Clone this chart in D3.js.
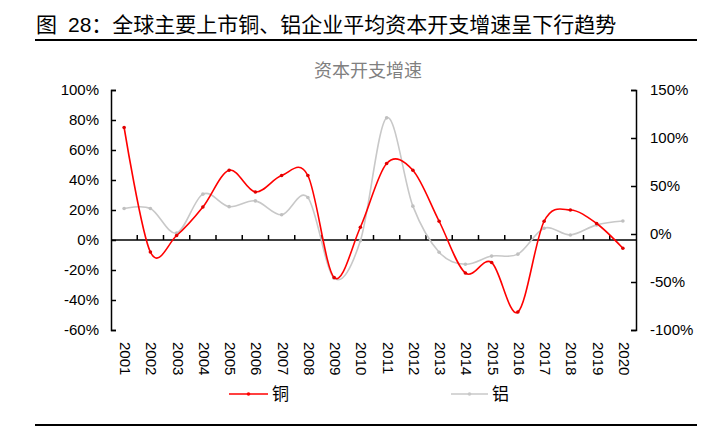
<!DOCTYPE html>
<html>
<head>
<meta charset="utf-8">
<script src="https://cdn.jsdelivr.net/npm/d3@7"></script>
<style>
  body { margin: 0; background: #fff; }
  text { font-family: "Liberation Sans", Arial, "Noto Sans CJK SC", sans-serif; }
  .cjk { font-family: "Liberation Sans", "Noto Sans CJK SC", sans-serif; }
</style>
</head>
<body>
<svg id="chart" width="714" height="434"></svg>
<script>
const years = ["2001", "2002", "2003", "2004", "2005", "2006", "2007", "2008", "2009", "2010",
  "2011", "2012", "2013", "2014", "2015", "2016", "2017", "2018", "2019", "2020"];
// copper, left axis (%)
const copper = [75, -8, 3, 22, 46.5, 32, 43, 43, -25, 8.5, 51, 46.5, 12.5, -22, -15, -48, 12.5, 20, 11, -5.5];
// aluminium, right axis (%)
const aluminium = [26.5, 26.5, 1, 41.5, 28.5, 34.5, 20, 38, -46, -7, 121, 29, -19, -31.5, -23, -21, 6, -1, 9.5, 13.5];
const leftTicks = [-60, -40, -20, 0, 20, 40, 60, 80, 100];
const rightTicks = [-100, -50, 0, 50, 100, 150];

const svg = d3.select("#chart");

// heading
svg.append("text")
  .attr("class", "cjk")
  .attr("y", 32)
  .style("font-size", "21px")
  .call((t) => {
    t.append("tspan").attr("x", 36).text("图");
    t.append("tspan").attr("x", 68).text("28：全球主要上市铜、铝企业平均资本开支增速呈下行趋势");
  });

svg.append("line")
  .attr("x1", 35).attr("x2", 697)
  .attr("y1", 40).attr("y2", 40)
  .attr("stroke", "#000").attr("stroke-width", 2);

svg.append("line")
  .attr("x1", 35).attr("x2", 697)
  .attr("y1", 425).attr("y2", 425)
  .attr("stroke", "#000").attr("stroke-width", 2);

svg.append("text")
  .attr("class", "cjk")
  .attr("x", 368).attr("y", 77)
  .attr("text-anchor", "middle")
  .attr("fill", "#808080")
  .style("font-size", "18px")
  .text("资本开支增速");

const x = d3.scaleBand().domain(years).range([111, 636]);
const yL = d3.scaleLinear().domain([-60, 100]).range([330, 90]);
const yR = d3.scaleLinear().domain([-100, 150]).range([330, 90]);

// axes
const axL = svg.append("g")
  .attr("transform", "translate(111,0)")
  .call(d3.axisLeft(yL).tickValues(leftTicks).tickSize(-5).tickPadding(12)
    .tickFormat((d) => d + "%"));

const axR = svg.append("g")
  .attr("transform", "translate(636,0)")
  .call(d3.axisRight(yR).tickValues(rightTicks).tickSize(-5).tickPadding(14)
    .tickFormat((d) => d + "%"));

for (const ax of [axL, axR]) {
  ax.select(".domain").attr("stroke", "#000").attr("stroke-width", 1.5);
  ax.selectAll(".tick line").attr("stroke", "#000").attr("stroke-width", 1.5);
  ax.selectAll(".tick text")
    .attr("fill", "#000")
    .style("font-size", "15px")
    .style("font-family", "'Liberation Sans', Arial, sans-serif");
}

// category axis at left zero
const y0 = yL(0);
svg.append("line")
  .attr("x1", 111).attr("x2", 636)
  .attr("y1", y0).attr("y2", y0)
  .attr("stroke", "#000").attr("stroke-width", 1.5);

svg.append("g")
  .selectAll("line")
  .data(years.slice(1))
  .join("line")
  .attr("x1", (d) => x(d)).attr("x2", (d) => x(d))
  .attr("y1", y0).attr("y2", y0 - 5)
  .attr("stroke", "#000").attr("stroke-width", 1.5);

svg.append("g")
  .selectAll("text")
  .data(years)
  .join("text")
  .attr("transform", (d) => `translate(${x(d) + x.bandwidth() / 2}, 342) rotate(90)`)
  .attr("dominant-baseline", "middle")
  .style("font-size", "15px")
  .text((d) => d);

// series
const cx = (d, i) => x(years[i]) + x.bandwidth() / 2;

const lineAl = d3.line().x(cx).y((d) => yR(d)).curve(d3.curveCatmullRom.alpha(0));
const lineCu = d3.line().x(cx).y((d) => yL(d)).curve(d3.curveCatmullRom.alpha(0));

svg.append("path")
  .datum(aluminium)
  .attr("d", lineAl)
  .attr("fill", "none")
  .attr("stroke", "#c8c8c8")
  .attr("stroke-width", 1.6);

svg.append("g")
  .selectAll("circle")
  .data(aluminium)
  .join("circle")
  .attr("cx", cx).attr("cy", (d) => yR(d))
  .attr("r", 1.8)
  .attr("fill", "#c0c0c0");

svg.append("path")
  .datum(copper)
  .attr("d", lineCu)
  .attr("fill", "none")
  .attr("stroke", "#ff0000")
  .attr("stroke-width", 1.6);

svg.append("g")
  .selectAll("circle")
  .data(copper)
  .join("circle")
  .attr("cx", cx).attr("cy", (d) => yL(d))
  .attr("r", 1.8)
  .attr("fill", "#e00000");

// legend
const legend = [
  { name: "铜", color: "#ff0000", x1: 229, x2: 268 },
  { name: "铝", color: "#c8c8c8", x1: 451, x2: 488 }
];
const lg = svg.append("g").selectAll("g").data(legend).join("g");
lg.append("line")
  .attr("x1", (d) => d.x1).attr("x2", (d) => d.x2)
  .attr("y1", 394).attr("y2", 394)
  .attr("stroke", (d) => d.color).attr("stroke-width", 1.6);
lg.append("circle")
  .attr("cx", (d) => (d.x1 + d.x2) / 2).attr("cy", 394)
  .attr("r", 1.8).attr("fill", (d) => d.color);
lg.append("text")
  .attr("class", "cjk")
  .attr("x", (d) => d.x2 + 4).attr("y", 400)
  .style("font-size", "17px")
  .text((d) => d.name);
</script>
</body>
</html>
